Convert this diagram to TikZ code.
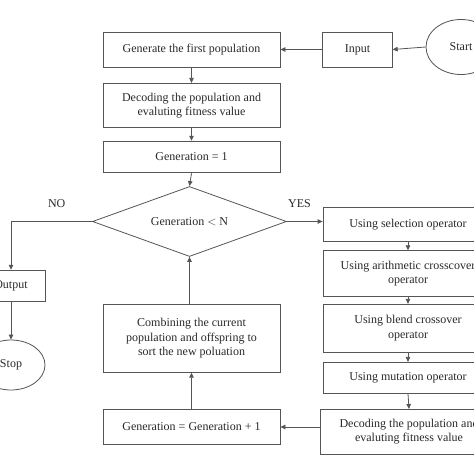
\documentclass[tikz,border=0pt]{standalone}
\usepackage{fontspec}
\setmainfont{Liberation Serif}
\usetikzlibrary{arrows.meta,shapes.geometric}
\definecolor{linec}{HTML}{555555}
\definecolor{textc}{HTML}{2A2A2A}
\tikzset{
  every node/.style={text=textc,font=\fontsize{12}{14.5}\selectfont},
  box/.style={draw=linec,line width=0.8pt,rectangle,inner sep=0pt,align=center},
  oval/.style={draw=linec,line width=0.8pt,ellipse,inner sep=0pt},
  decision/.style={draw=linec,line width=0.8pt,diamond,inner sep=0pt,aspect=2.77},
  arr/.style={draw=linec,line width=0.8pt,-{Triangle[length=5pt,width=4.5pt]}},
  lbl/.style={inner sep=0pt}
}
\begin{document}
\begin{tikzpicture}[x=1pt,y=-1pt]
\useasboundingbox (0,0) rectangle (474,474);
\clip (0,0) rectangle (474,474);
\fill[white] (0,0) rectangle (474,474);
% left column
\node[oval,minimum width=70pt,minimum height=55pt] (start) at (461,47) {Start};
\node[box,minimum width=69.5pt,minimum height=35pt] (input) at (357.5,49.5) {Input};
\node[box,minimum width=177pt,minimum height=35pt] (gen) at (191.5,49.5) {Generate the first population};
\node[box,minimum width=177pt,minimum height=44.4pt] (dec1) at (191.5,105.5) {Decoding the population and\\evaluting fitness value};
\node[box,minimum width=177pt,minimum height=31.7pt] (g1) at (191.5,157) {Generation = 1};
\node[decision,minimum width=194pt,minimum height=70pt] (cond) at (189.5,221.5) {Generation $<$ N};
\node[box,minimum width=177pt,minimum height=68pt] (comb) at (191.5,338.3) {Combining the current\\population and offspring to\\sort the new poluation};
\node[box,minimum width=177pt,minimum height=35.7pt] (ginc) at (191.5,427) {Generation = Generation + 1};
% output / stop
\node[box,minimum width=69.5pt,minimum height=31.7pt] (out) at (11,286) {Output};
\node[oval,minimum width=68pt,minimum height=50pt] (stop) at (11,365) {Stop};
% right column
\node[box,minimum width=170pt,minimum height=33.3pt] (sel) at (408,224.3) {Using selection operator};
\node[box,minimum width=170pt,minimum height=46pt] (arith) at (408,273.7) {Using arithmetic crosscover\\operator};
\node[box,minimum width=170pt,minimum height=48pt] (blend) at (408,328.3) {Using blend crossover\\operator};
\node[box,minimum width=170pt,minimum height=31pt] (mut) at (408,377.8) {Using mutation operator};
\node[box,minimum width=178pt,minimum height=44.7pt] (dec2) at (409,431.7) {Decoding the population and\\evaluting fitness value};
% labels
\node[lbl] (no) at (56.7,204) {NO};
\node[lbl] (yes) at (299.5,204) {YES};
% connectors
\draw[arr] (start.west) -- (input.east);
\draw[arr] (input.west) -- (gen.east);
\draw[arr] (gen.south) -- (dec1.north);
\draw[arr] (dec1.south) -- (g1.north);
\draw[arr] (g1.south) -- (cond.north);
\draw[arr] (cond.west) -| (out.north);
\draw[arr] (out.south) -- (stop.north);
\draw[arr] (cond.east) -- (sel.west |- cond.east);
\draw[arr] (sel.south) -- (arith.north);
\draw[arr] (arith.south) -- (blend.north);
\draw[arr] (blend.south) -- (mut.north);
\draw[arr] (mut.south) -- (dec2.north);
\draw[arr] (dec2.west |- ginc.east) -- (ginc.east);
\draw[arr] (ginc.north -| comb.south) -- (comb.south);
\draw[arr] (comb.north -| cond.south) -- (cond.south);
\end{tikzpicture}
\end{document}
